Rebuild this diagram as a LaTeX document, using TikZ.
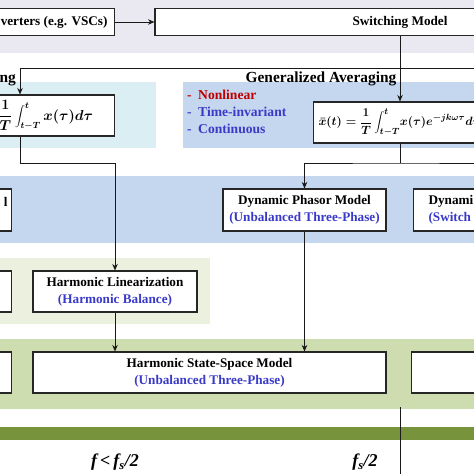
\documentclass[tikz,border=0pt]{standalone}
\usepackage{fontspec}
\setmainfont{Liberation Serif}
\usetikzlibrary{arrows.meta}
\definecolor{bandtop}{RGB}{234,232,240}
\definecolor{bandcyan}{RGB}{218,238,243}
\definecolor{bandblue}{RGB}{197,215,238}
\definecolor{bandlgreen}{RGB}{235,241,222}
\definecolor{bandmgreen}{RGB}{206,221,176}
\definecolor{banddgreen}{RGB}{119,147,60}
\definecolor{txtred}{RGB}{192,0,0}
\definecolor{txtblue}{RGB}{58,58,200}
\newcommand{\avgformula}{$\displaystyle\frac{1}{T}\int_{t-T}^{t} x(\tau)d\tau$}
\newcommand{\gaformula}{$\displaystyle\bar{x}(t)=\frac{1}{T}\int_{t-T}^{t}\! x(\tau)e^{-jk\omega\tau}d\tau$}
\tikzset{
  box/.style={draw=black!85, line width=1.1pt, fill=white, font=\fontsize{13.2}{17}\selectfont\bfseries, align=center, inner sep=0pt},
  mathbox/.style={box, font=\fontsize{13.5}{15}\selectfont\boldmath},
  conn/.style={line width=0.8pt, draw=black!90},
  arr/.style={conn, -{Stealth[length=6.5pt,width=5.5pt]}},
}
\begin{document}
\begin{tikzpicture}[x=1pt,y=-1pt]
\useasboundingbox (0,0) rectangle (474,474);
\clip (0,0) rectangle (474,474);
% bands
\fill[bandtop] (-5,-5) rectangle (480,53);
\fill[bandcyan] (-5,82) rectangle (156,148);
\fill[bandblue] (183,82) rectangle (480,148);
\fill[bandblue] (-5,176) rectangle (480,243);
\fill[bandlgreen] (-5,258) rectangle (210,324);
\fill[bandmgreen] (-5,339) rectangle (480,409);
\fill[banddgreen] (-5,427) rectangle (480,440);

% top row
\node[box, anchor=east, minimum height=27pt, inner xsep=7pt] (conv) at (115,22) {verters (e.g. VSCs)};
\node[box, minimum width=490pt, minimum height=27pt] (sw) at (400,22) {Switching Model};

% averaging labels
\node[font=\fontsize{15.4}{17}\selectfont\bfseries, anchor=base east, inner sep=0pt] (avglbl) at (16,82) {ng};
\node[font=\fontsize{15.4}{17}\selectfont\bfseries, anchor=base, inner sep=0pt] (galbl) at (321,82) {Generalized Averaging};
\node[font=\fontsize{13.6}{17}\selectfont\bfseries, anchor=north west, align=left, inner sep=0pt] (galist) at (187,90) {{\color{txtred}-\hspace{6.5pt}Nonlinear}\\{\color{txtblue}-\hspace{6.5pt}Time-invariant}\\{\color{txtblue}-\hspace{6.5pt}Continuous}};

% formula boxes
\node[mathbox, anchor=east, minimum height=41pt, inner xsep=0pt, text width=116pt, align=left] (avg) at (115,115.5) {\avgformula};
\node[mathbox, font=\fontsize{12.4}{15}\selectfont\boldmath, anchor=west, minimum height=41pt, inner xsep=5pt, text width=200pt, align=left] (ga) at (313,122.5) {\gaformula};

% blue row
\node[box, anchor=east, minimum height=42pt, inner xsep=4pt, text width=60pt, align=right] (l1) at (12,210) {l\\\mbox{}};
\node[box, minimum width=163pt, minimum height=42pt] (dpm) at (304.5,210) {Dynamic Phasor Model\\{\color{txtblue}(Unbalanced Three-Phase)}};
\node[box, anchor=west, minimum height=42pt, inner xsep=15pt, text width=120pt, align=left] (dsw) at (413,210) {Dynami\\{\color{txtblue}(Switch}};

% light green row
\node[box, anchor=east, minimum width=60pt, minimum height=41pt] (l2) at (12,291.5) {};
\node[box, minimum width=164pt, minimum height=41pt] (hl) at (115,291.5) {Harmonic Linearization\\{\color{txtblue}(Harmonic Balance)}};

% mid green row
\node[box, anchor=east, minimum width=60pt, minimum height=41pt] (l3) at (12,372.5) {};
\node[box, minimum width=353pt, minimum height=41pt] (hss) at (209.5,372.5) {Harmonic State-Space Model\\{\color{txtblue}(Unbalanced Three-Phase)}};
\node[box, anchor=west, minimum width=150pt, minimum height=41pt] (r3) at (411,372.5) {};

% bottom labels
\node[font=\fontsize{18}{20}\selectfont\bfseries\itshape, inner sep=0pt] (flow) at (115,462) {f\,<\,f\textsubscript{s}/2};
\node[font=\fontsize{18}{20}\selectfont\bfseries\itshape, inner sep=0pt] (fhalf) at (365,462) {f\textsubscript{s}/2};

% coordinates
\coordinate (j1) at (400,68);
\coordinate (e1) at (480,68);
\coordinate (c20) at (20,68);
\coordinate (k1) at (20,163);
\coordinate (j2) at (400,163);
\coordinate (e2) at (480,163);
\coordinate (b1) at (400,407);
\coordinate (b2) at (400,480);

% connectors
\draw[arr] (conv.east) -- (sw.west);
\draw[arr] (sw.south) -- (sw.south |- ga.north);
\draw[conn] (e1) -- (c20);
\draw[arr] (c20) -- (avg.north -| c20);
\draw[arr] (avg.south -| k1) -- (k1) -| (hl.north);
\draw[conn] (ga.south -| j2) -- (j2);
\draw[arr] (e2) -- (j2) -| (dpm.north);
\draw[arr] (hl.south) -- (hl.south |- hss.north);
\draw[arr] (dpm.south) -- (dpm.south |- hss.north);
\draw[conn] (b1) -- (b2);
\end{tikzpicture}
\end{document}
